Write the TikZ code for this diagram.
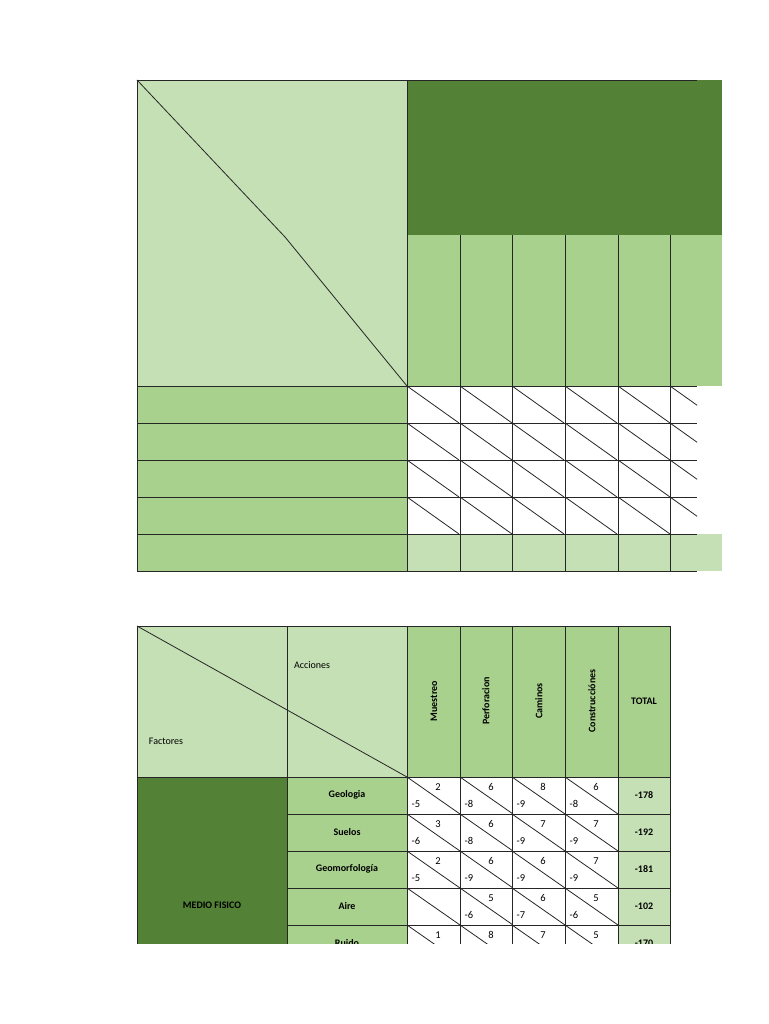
\documentclass[tikz,border=0pt]{standalone}
\usepackage{fontspec}
\setmainfont{Carlito}
\definecolor{dk}{HTML}{538135}
\definecolor{md}{HTML}{A9D18E}
\definecolor{lt}{HTML}{C5E0B4}
\begin{document}
\begin{tikzpicture}[x=1pt,y=-1pt,
  ln/.style={draw=black!85,line width=0.8pt},
  lbl/.style={font=\bfseries\fontsize{10}{12}\selectfont},
  num/.style={font=\fontsize{10.5}{12}\selectfont,inner sep=0pt}]
\useasboundingbox (0,0) rectangle (768,1024);
% ---------- top table
\fill[lt] (137,80) rectangle (407,386);
\fill[dk] (407,80) rectangle (722,235);
\fill[md] (407,235) rectangle (722,386);
\fill[md] (137,386) rectangle (407,571);
\fill[lt] (407,534) rectangle (722,571);
\foreach \x in {460,512,565,618,670} \draw[ln] (\x,235) -- (\x,571);
\draw[ln] (407,80) -- (407,571);
\draw[ln] (137,80) -- (697,80);
\draw[ln] (137,80) -- (137,571);
\foreach \y in {386,423,460,497,534,571} \draw[ln] (137,\y) -- (697,\y);
\draw[ln] (137,80) -- (285,237) -- (407,386);
\begin{scope}
\clip (407,386) rectangle (697,534);
\foreach \x in {407,460,512,565,618,670}
  \foreach \y in {386,423,460,497}
    \draw[ln] (\x,\y) -- ++(52,37);
\end{scope}
% ---------- bottom table
\begin{scope}
\clip (0,600) rectangle (768,943);
\fill[lt] (137,626) rectangle (407,777);
\fill[md] (407,626) rectangle (670,777);
\fill[dk] (137,777) rectangle (287,960);
\fill[md] (287,777) rectangle (407,960);
\fill[lt] (618,777) rectangle (670,960);
\foreach \x in {137,287,407,460,512,565,618,670} \draw[ln] (\x,626) -- (\x,960);
\draw[ln] (137,626) -- (670,626);
\draw[ln] (137,777) -- (670,777);
\foreach \y in {814,851,888,925} \draw[ln] (287,\y) -- (670,\y);
\draw[ln] (137,626) -- (407,777);
\node[lbl,font=\fontsize{10}{12}\selectfont] (acc) at (312,665) {Acciones};
\node[lbl,font=\fontsize{10}{12}\selectfont] (fac) at (166,741) {Factores};
\node[lbl,rotate=90] (h1) at (434,701) {Muestreo};
\node[lbl,rotate=90] (h2) at (486,701) {Perforacion};
\node[lbl,rotate=90] (h3) at (539,701) {Caminos};
\node[lbl,rotate=90] (h4) at (592,701) {Construcciónes};
\node[lbl] (ht) at (644,701) {TOTAL};
\node[lbl] (mf) at (212,905) {MEDIO FISICO};
\foreach \n/\y in {Geologia/795,Suelos/832,Geomorfología/869,Aire/906,Ruido/943}
  \node[lbl] at (347,\y) {\n};
\foreach \t/\y in {-178/795,-192/832,-181/869,-102/906,-170/943}
  \node[lbl] at (644,\y) {\t};
\foreach \x in {407,460,512,565}
  \foreach \y in {777,814,851,888,925}
    \draw[ln] (\x,\y) -- ++(53,37);
\foreach \a/\b/\c [count=\i from 0] in {2/6/8,3/6/7,2/6/6}{}
% numbers: row, column top/bottom
\foreach \y/\ta/\ba/\tb/\bb/\tc/\bc/\td/\bd in
  {777/2/-5/6/-8/8/-9/6/-8, 814/3/-6/6/-8/7/-9/7/-9, 851/2/-5/6/-9/6/-9/7/-9, 888//{}/5/-6/6/-7/5/-6, 925/1/{}/8/{}/7/{}/5/{}}{
  \node[num] at (438,\y+10) {\ta}; \node[num] at (416,\y+27) {\ba};
  \node[num] at (491,\y+10) {\tb}; \node[num] at (469,\y+27) {\bb};
  \node[num] at (543,\y+10) {\tc}; \node[num] at (521,\y+27) {\bc};
  \node[num] at (596,\y+10) {\td}; \node[num] at (574,\y+27) {\bd};
}
\end{scope}
\end{tikzpicture}
\end{document}
